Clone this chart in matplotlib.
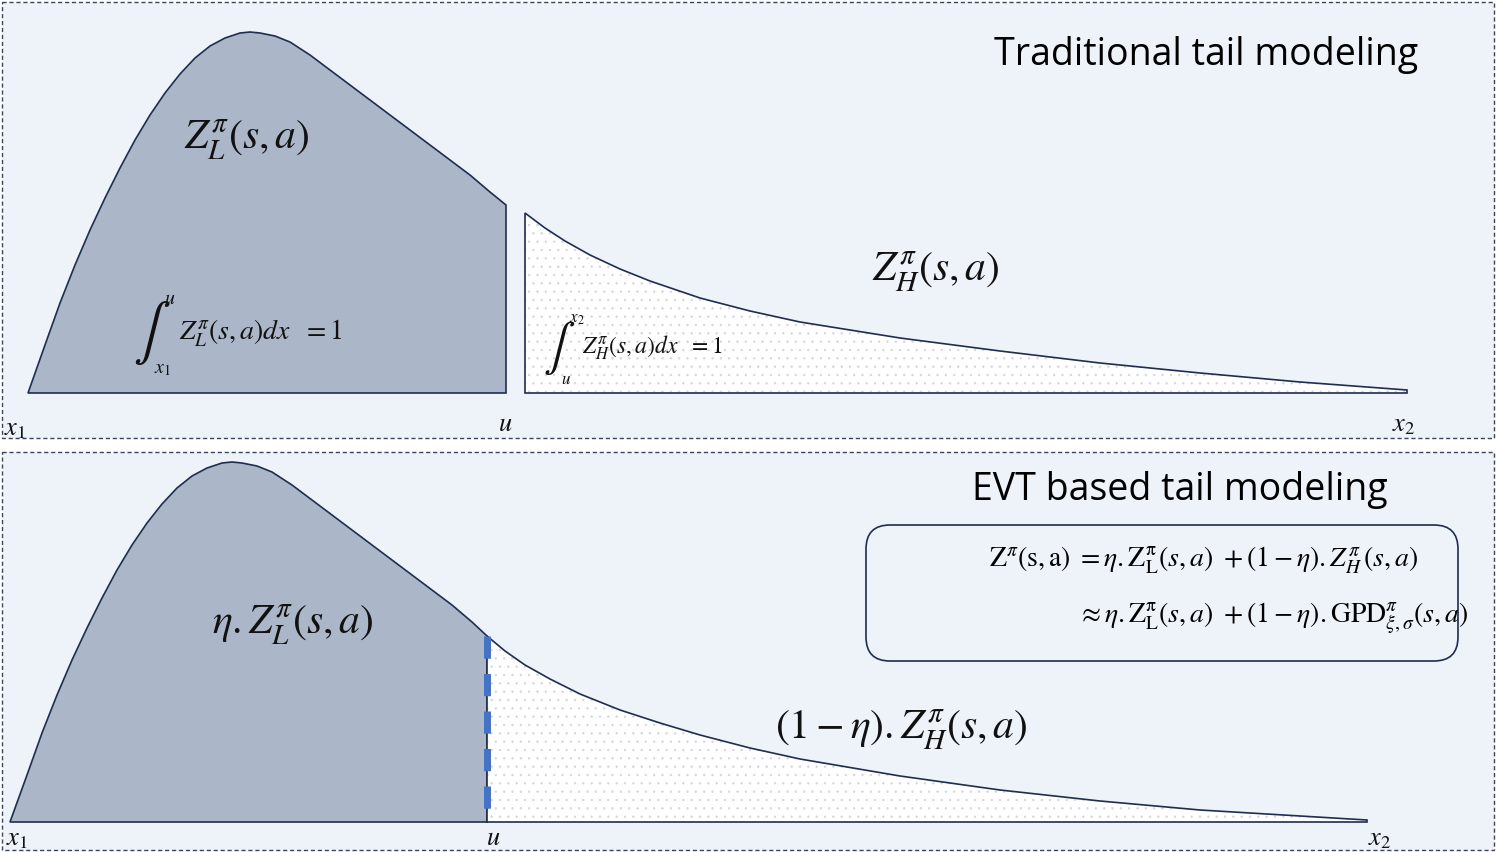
import matplotlib.pyplot as plt
from matplotlib.patches import Rectangle, FancyBboxPatch, Polygon

plt.rcParams['mathtext.fontset'] = 'stix'
plt.rcParams['hatch.linewidth'] = 0.5

# curve samples (pixel coords, y downwards)
top_body_x = [28, 45, 60, 75, 90, 105, 120, 135, 150, 165, 180, 195, 210, 225, 240, 250,
              260, 275, 290, 310, 330, 350, 370, 390, 410, 430, 450, 470, 490, 506]
top_body_y = [393, 345, 303, 265, 230, 198, 168, 140, 115, 93, 74, 58, 46, 38, 33, 32,
              33, 36, 42, 55, 70, 85, 100, 115, 130, 145, 160, 175, 192, 205]
top_tail_x = [525, 545, 565, 590, 620, 650, 700, 750, 800, 900, 1000, 1100, 1200, 1300, 1407]
top_tail_y = [213, 228, 241, 255, 269, 281, 298, 311, 322, 338, 351, 363, 373, 382, 390]

bot_body_x = [10, 27, 42, 57, 72, 87, 102, 117, 132, 147, 162, 177, 192, 207, 222, 232,
              242, 257, 272, 292, 312, 332, 352, 372, 392, 412, 432, 452, 472, 487]
bot_body_y = [822, 775, 733, 695, 660, 628, 598, 570, 545, 523, 504, 488, 476, 468, 463, 462,
              463, 466, 472, 485, 500, 515, 530, 545, 560, 575, 590, 605, 622, 636]
bot_tail_x = [487, 505, 525, 550, 580, 620, 660, 700, 750, 800, 900, 1000, 1100, 1200, 1300, 1367]
bot_tail_y = [636, 651, 665, 679, 694, 710, 723, 735, 748, 759, 776, 790, 801, 810, 816, 820]

navy = '#1f2d4f'
body_fill = '#abb7c9'

fig = plt.figure(figsize=(14.96, 8.52), dpi=100)
ax = fig.add_axes([0, 0, 1, 1])
ax.set_xlim(0, 1496)
ax.set_ylim(852, 0)
ax.axis('off')

# panels
for y0, y1 in [(2, 438), (452, 850)]:
    ax.add_patch(Rectangle((2, y0), 1492, y1 - y0, facecolor='#eef2f9',
                           edgecolor='#3a4660', lw=1, ls=(0, (3, 2))))


def shape(xs, ys, base, face, hatch=None):
    pts = list(zip(xs, ys)) + [(xs[-1], base), (xs[0], base)]
    ax.add_patch(Polygon(pts, closed=True, facecolor=face, edgecolor='none', lw=0))
    if hatch:
        ax.add_patch(Polygon(pts, closed=True, facecolor='none', edgecolor='#d3d7de',
                             lw=0, hatch=hatch))
    ax.add_patch(Polygon(pts, closed=True, facecolor='none', edgecolor=navy, lw=1.2))


shape(top_body_x, top_body_y, 393, body_fill)
shape(top_tail_x, top_tail_y, 393, 'white', '..')
shape(bot_body_x, bot_body_y, 822, body_fill)
shape(bot_tail_x, bot_tail_y, 822, 'white', '..')
ax.plot([487, 487], [636, 822], color='#4472c4', lw=5, ls=(0, (3.2, 2.2)))

sans = 'Open Sans'
ax.text(1418, 55, 'Traditional tail modeling', fontsize=27, family=sans,
        ha='right', va='center')
ax.text(1388, 490, 'EVT based tail modeling', fontsize=27, family=sans,
        ha='right', va='center')

ms = dict(ha='left', va='center', color='#111111')
ax.text(184, 140, r'$Z_L^{\pi}(s,a)$', fontsize=30, **ms)
ax.text(872, 272, r'$Z_H^{\pi}(s,a)$', fontsize=30, **ms)
ax.text(212, 625, r'$\eta.Z_L^{\pi}(s,a)$', fontsize=30, **ms)
ax.text(775, 730, r'$(1-\eta).Z_H^{\pi}(s,a)$', fontsize=30, **ms)


def integral(x, y, lo, hi, body, size):
    ax.text(x, y, r'$\int$', fontsize=size * 2.0, **ms)
    ax.text(x + size * 1.55, y - size * 1.75, hi, fontsize=size * 0.72, **ms)
    ax.text(x + size * 1.05, y + size * 1.8, lo, fontsize=size * 0.72, **ms)
    ax.text(x + size * 2.3, y, body, fontsize=size, **ms)


integral(133, 333, r'$x_1$', r'$u$', r'$Z_L^{\pi}(s,a)dx\ \ =1$', 20)
integral(543, 348, r'$u$', r'$x_2$', r'$Z_H^{\pi}(s,a)dx\ \ =1$', 17)

for x, y, s in [(4, 428, r'$x_1$'), (498, 424, r'$u$'), (1392, 424, r'$x_2$'),
                (6, 838, r'$x_1$'), (486, 838, r'$u$'), (1368, 838, r'$x_2$')]:
    ax.text(x, y, s, fontsize=19, **ms)

ax.add_patch(FancyBboxPatch((866, 525), 592, 136,
                            boxstyle='round,pad=0,rounding_size=24',
                            facecolor='none', edgecolor=navy, lw=1.2))
ax.text(1418, 560, r'$\mathrm{Z}^{\pi}(\mathrm{s,a})\ =\eta.\mathrm{Z_L^{\pi}}(s,a)\ +(1-\eta).Z_H^{\pi}\,(s,a)$',
        fontsize=20, ha='right', va='center')
ax.text(1468, 618, r'$\approx\eta.\mathrm{Z_L^{\pi}}(s,a)\ +(1-\eta).\mathrm{GPD}_{\xi,\sigma}^{\pi}(s,a)$',
        fontsize=20, ha='right', va='center')

fig.savefig('out.png', dpi=100)
